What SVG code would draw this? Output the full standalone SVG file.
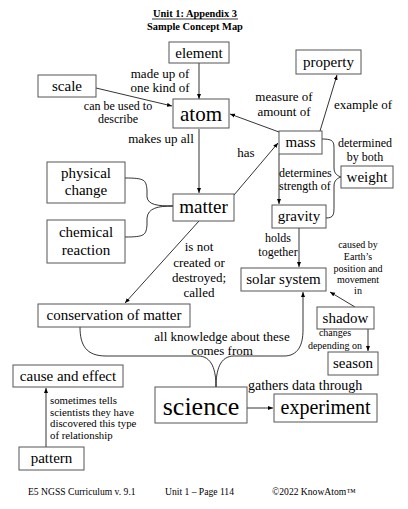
<svg xmlns="http://www.w3.org/2000/svg" width="408" height="509" viewBox="0 0 408 509">
<defs>
<marker id="ah" viewBox="0 0 10 10" refX="10" refY="5" markerWidth="5" markerHeight="5" orient="auto" markerUnits="userSpaceOnUse">
<path d="M0,1 L10,5 L0,9 z" fill="#000"/>
</marker>
<style>
text{font-family:"Liberation Serif","Times New Roman",serif;fill:#000}
.box{fill:#fff;stroke:#555;stroke-width:1}
.n{font-size:15px;text-anchor:middle}
.l{font-size:13px;text-anchor:middle}
.s{font-size:12px;text-anchor:middle}
.xs{font-size:10px;text-anchor:middle}
.c{fill:none;stroke:#000;stroke-width:0.8}
.a{fill:none;stroke:#000;stroke-width:0.8;marker-end:url(#ah)}
.t{font-size:10.4px;font-weight:bold;text-anchor:middle}
.f{font-size:9.6px}
</style>
</defs>
<rect width="408" height="509" fill="#fff"/>
<g id="title">
<text class="t" x="195" y="17">Unit 1: Appendix 3</text>
<line x1="152" y1="19" x2="238" y2="19" stroke="#000" stroke-width="0.8"/>
<text class="t" x="195" y="30">Sample Concept Map</text>
</g>
<g id="connectors">
<line class="a" x1="199" y1="63" x2="199" y2="99"/>
<line class="a" x1="96" y1="88" x2="172" y2="106"/>
<line class="a" x1="279" y1="132" x2="230" y2="114"/>
<line class="a" x1="320" y1="131" x2="337" y2="75"/>
<line class="a" x1="199" y1="129" x2="199" y2="193"/>
<line class="a" x1="234" y1="195" x2="278" y2="143"/>
<line class="a" x1="279" y1="154" x2="279" y2="204"/>
<line class="a" x1="299" y1="228" x2="299" y2="267"/>
<line class="a" x1="199" y1="221" x2="125" y2="303"/>
<line class="a" x1="355" y1="307" x2="330" y2="292"/>
<line class="a" x1="368" y1="329" x2="368" y2="351"/>
<line class="a" x1="247" y1="408" x2="273" y2="408"/>
<line class="a" x1="46" y1="447" x2="46" y2="388"/>
<path class="c" d="M125,178 C145,178 146,180 147,190 L147,197 C148,205 158,206 173,206"/>
<path class="c" d="M125,237 C145,237 146,235 147,225 L147,218 C148,208 158,206 173,206"/>
<path class="c" d="M322,139 C334,139 334,142 334,150 L334,168 C334,174 338,176 341,177"/>
<path class="c" d="M326,218 C334,218 334,214 334,206 L334,186 C334,180 338,178 341,177"/>
<path class="c" d="M80,327 C80,345 86,356 106,356 L198,356 C212,356 216,370 216,387"/>
<path class="a" d="M216,387 C216,370 220,356 234,356 L284,356 C298,356 303,345 303,330 L303,292"/>
</g>
<g id="element"><rect class="box" x="169" y="42" width="60" height="21"/><text class="n" x="199" y="58">element</text></g>
<g id="property"><rect class="box" x="296" y="50" width="65" height="24"/><text class="n" x="328.5" y="67">property</text></g>
<g id="scale"><rect class="box" x="38" y="75" width="58" height="22"/><text class="n" x="67" y="91">scale</text></g>
<g id="atom"><rect class="box" x="173" y="99" width="56" height="29"/><text class="n" x="201" y="121" style="font-size:21px">atom</text></g>
<g id="mass"><rect class="box" x="279" y="131" width="43" height="23"/><text class="n" x="300.5" y="147">mass</text></g>
<g id="weight"><rect class="box" x="341" y="166" width="52" height="22"/><text class="n" x="367" y="182">weight</text></g>
<g id="gravity"><rect class="box" x="272" y="205" width="54" height="23"/><text class="n" x="299" y="221">gravity</text></g>
<g id="physical-change"><rect class="box" x="47" y="162" width="78" height="41"/><text class="n" x="86" y="178">physical</text><text class="n" x="86" y="195">change</text></g>
<g id="chemical-reaction"><rect class="box" x="47" y="220" width="78" height="43"/><text class="n" x="86" y="237">chemical</text><text class="n" x="86" y="255">reaction</text></g>
<g id="matter"><rect class="box" x="173" y="194" width="61" height="27"/><text class="n" x="203.5" y="213" style="font-size:19px">matter</text></g>
<g id="solar-system"><rect class="box" x="241" y="268" width="85" height="23"/><text class="n" x="283.5" y="284">solar system</text></g>
<g id="conservation-of-matter"><rect class="box" x="38" y="304" width="152" height="23"/><text class="n" x="114" y="320">conservation of matter</text></g>
<g id="shadow"><rect class="box" x="317" y="307" width="57" height="22"/><text class="n" x="345.5" y="323">shadow</text></g>
<g id="season"><rect class="box" x="328" y="352" width="50" height="23"/><text class="n" x="353" y="368">season</text></g>
<g id="cause-and-effect"><rect class="box" x="13" y="365" width="110" height="22"/><text class="n" x="68" y="381">cause and effect</text></g>
<g id="science"><rect class="box" x="155" y="387" width="92" height="36"/><text class="n" x="201" y="415" style="font-size:26px">science</text></g>
<g id="experiment"><rect class="box" x="274" y="394" width="103" height="28"/><text class="n" x="325.5" y="414" style="font-size:20px">experiment</text></g>
<g id="pattern"><rect class="box" x="19" y="447" width="65" height="23"/><text class="n" x="51.5" y="463">pattern</text></g>
<g id="labels">
<text class="l" x="160" y="78">made up of</text>
<text class="l" x="160" y="92">one kind of</text>
<text class="s" x="118" y="110">can be used to</text>
<text class="s" x="118" y="123">describe</text>
<text class="l" x="284" y="101">measure of</text>
<text class="l" x="284" y="116">amount of</text>
<text class="l" x="334" y="109" style="text-anchor:start">example of</text>
<text class="l" x="161" y="143">makes up all</text>
<text class="l" x="246" y="157">has</text>
<text class="s" x="365" y="147">determined</text>
<text class="s" x="365" y="161">by both</text>
<text class="s" x="279" y="177" style="text-anchor:start">determines</text>
<text class="s" x="279" y="190" style="text-anchor:start">strength of</text>
<text class="s" x="278" y="242">holds</text>
<text class="s" x="278" y="256">together</text>
<text class="xs" x="358" y="248">caused by</text>
<text class="xs" x="358" y="260">Earth’s</text>
<text class="xs" x="358" y="272">position and</text>
<text class="xs" x="358" y="283">movement</text>
<text class="xs" x="358" y="294">in</text>
<text class="l" x="199" y="251">is not</text>
<text class="l" x="199" y="267">created or</text>
<text class="l" x="199" y="282">destroyed;</text>
<text class="l" x="199" y="297">called</text>
<text class="l" x="222" y="341">all knowledge about these</text>
<text class="l" x="222" y="355">comes from</text>
<text class="xs" x="335" y="336">changes</text>
<text class="xs" x="335" y="349">depending on</text>
<text class="l" x="248" y="390" style="text-anchor:start;font-size:14px">gathers data through</text>
<text class="xs" x="50" y="404" style="text-anchor:start;font-size:10.8px">sometimes tells</text>
<text class="xs" x="50" y="415.5" style="text-anchor:start;font-size:10.8px">scientists they have</text>
<text class="xs" x="50" y="427" style="text-anchor:start;font-size:10.8px">discovered this type</text>
<text class="xs" x="50" y="438.5" style="text-anchor:start;font-size:10.8px">of relationship</text>
</g>
<g id="footer">
<text class="f" x="28" y="495">E5 NGSS Curriculum v. 9.1</text>
<text class="f" x="165" y="495">Unit 1 – Page 114</text>
<text class="f" x="272" y="495">©2022 KnowAtom™</text>
</g>
</svg>
